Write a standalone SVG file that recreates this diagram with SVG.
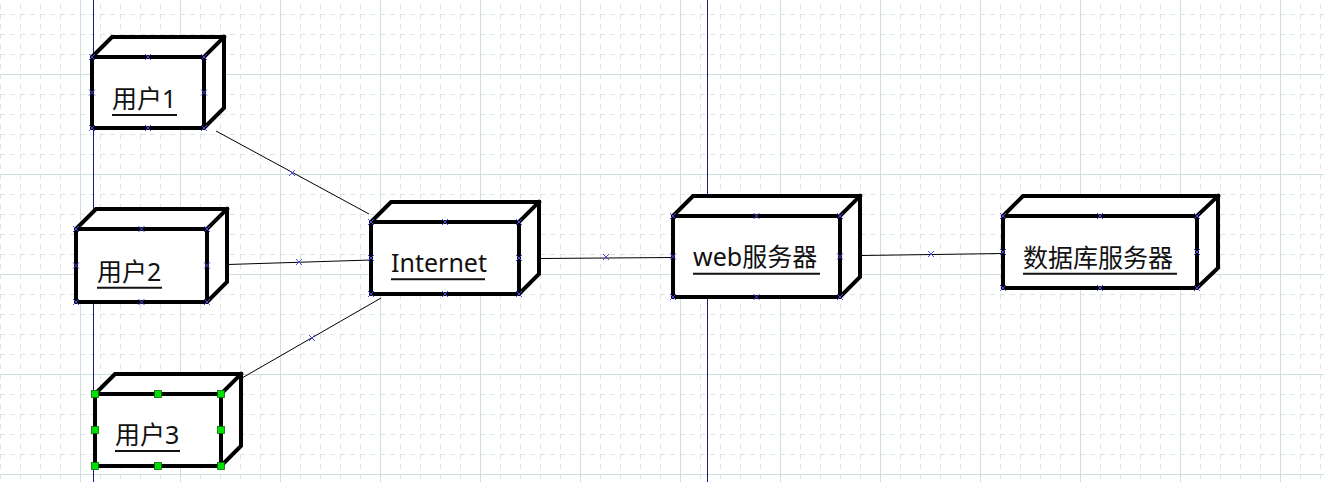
<svg xmlns="http://www.w3.org/2000/svg" width="1324" height="482" viewBox="0 0 1324 482">
<style>
.node-shape{fill:#ffffff;stroke:#000000;stroke-width:4;stroke-linejoin:miter}
.edge{fill:none;stroke:#000000;stroke-width:4;stroke-linecap:square}
.label{font-family:"Noto Sans","Noto Sans CJK SC",sans-serif;font-size:25px;fill:#111111}
.uline{stroke:#111111;stroke-width:2}
.conn{stroke:#000000;stroke-width:1;fill:none}
.pin{stroke:#4a4ae0;stroke-width:1;fill:none}
.handle{fill:#00e000;stroke:#0a6a0a;stroke-width:0.8}
.guide{stroke:#1a1a8a;stroke-width:1}
</style>
<defs>
<pattern id="minor" patternUnits="userSpaceOnUse" x="0" y="14" width="20" height="20">
<path d="M0.5 0V20M0 0.5H20" stroke="#d8e5e1" stroke-width="1" stroke-dasharray="5 5" fill="none"/>
</pattern>
<pattern id="major" patternUnits="userSpaceOnUse" x="80" y="74" width="100" height="100">
<path d="M0.5 0V100M0 0.5H100" stroke="#cfe0dc" stroke-width="1" fill="none"/>
</pattern>
<path id="x" class="pin" d="M-3-3L3 3M-3 3L3-3"/>
</defs>
<rect width="1324" height="482" fill="#ffffff"/>
<rect width="1324" height="482" fill="url(#minor)"/>
<rect width="1324" height="482" fill="url(#major)"/>
<g id="guides">
<line class="guide" x1="93.5" y1="0" x2="93.5" y2="482"/>
<line class="guide" x1="707.5" y1="0" x2="707.5" y2="482"/>
</g>
<g id="connectors">
<line class="conn" x1="216" y1="131" x2="369" y2="214"/>
<line class="conn" x1="228" y1="264.5" x2="371" y2="260"/>
<line class="conn" x1="242" y1="378" x2="381" y2="298"/>
<line class="conn" x1="540" y1="258.5" x2="673" y2="257.5"/>
<line class="conn" x1="862" y1="255.5" x2="1003" y2="253.5"/>
<use href="#x" x="292" y="173"/>
<use href="#x" x="299" y="262"/>
<use href="#x" x="312" y="338"/>
<use href="#x" x="606" y="257"/>
<use href="#x" x="931" y="254"/>
</g>
<g id="user1">
<path class="node-shape" d="M92 57L112 37H224V108L204 128H92Z"/>
<path class="edge" d="M92 57H204V128M204 57L224 37"/>
<text class="label" x="112" y="107.5">用户1</text>
<line class="uline" x1="112" y1="115" x2="177" y2="115"/>
<use href="#x" x="92" y="57"/><use href="#x" x="148" y="57"/><use href="#x" x="204" y="57"/>
<use href="#x" x="92" y="92.5"/><use href="#x" x="204" y="92.5"/>
<use href="#x" x="92" y="128"/><use href="#x" x="148" y="128"/><use href="#x" x="204" y="128"/>
</g>
<g id="user2">
<path class="node-shape" d="M76 229L96 209H227V282L207 302H76Z"/>
<path class="edge" d="M76 229H207V302M207 229L227 209"/>
<text class="label" x="97" y="280.5">用户2</text>
<line class="uline" x1="97" y1="287.7" x2="162" y2="287.7"/>
<use href="#x" x="76" y="229"/><use href="#x" x="141.5" y="229"/><use href="#x" x="207" y="229"/>
<use href="#x" x="76" y="265.5"/><use href="#x" x="207" y="265.5"/>
<use href="#x" x="76" y="302"/><use href="#x" x="141.5" y="302"/><use href="#x" x="207" y="302"/>
</g>
<g id="user3">
<path class="node-shape" d="M95 394L115 374H241V446L221 466H95Z"/>
<path class="edge" d="M95 394H221V466M221 394L241 374"/>
<text class="label" x="115" y="444">用户3</text>
<line class="uline" x1="115" y1="451" x2="180" y2="451"/>
<rect class="handle" x="91.5" y="390.5" width="7" height="7"/>
<rect class="handle" x="154.5" y="390.5" width="7" height="7"/>
<rect class="handle" x="217.5" y="390.5" width="7" height="7"/>
<rect class="handle" x="91.5" y="426.5" width="7" height="7"/>
<rect class="handle" x="217.5" y="426.5" width="7" height="7"/>
<rect class="handle" x="91.5" y="462.5" width="7" height="7"/>
<rect class="handle" x="154.5" y="462.5" width="7" height="7"/>
<rect class="handle" x="217.5" y="462.5" width="7" height="7"/>
</g>
<g id="internet">
<path class="node-shape" d="M371 222L391 202H539V274L519 294H371Z"/>
<path class="edge" d="M371 222H519V294M519 222L539 202"/>
<text class="label" x="391" y="271.7">Internet</text>
<line class="uline" x1="391" y1="279.3" x2="485" y2="279.3"/>
<use href="#x" x="371" y="222"/><use href="#x" x="445" y="222"/><use href="#x" x="519" y="222"/>
<use href="#x" x="371" y="258"/><use href="#x" x="519" y="258"/>
<use href="#x" x="371" y="294"/><use href="#x" x="445" y="294"/><use href="#x" x="519" y="294"/>
</g>
<g id="web-server">
<path class="node-shape" d="M673 216L693 196H860V277L840 297H673Z"/>
<path class="edge" d="M673 216H840V297M840 216L860 196"/>
<text class="label" x="693" y="266">web服务器</text>
<line class="uline" x1="693" y1="273.7" x2="820" y2="273.7"/>
<use href="#x" x="673" y="216"/><use href="#x" x="756.5" y="216"/><use href="#x" x="840" y="216"/>
<use href="#x" x="673" y="256.5"/><use href="#x" x="840" y="256.5"/>
<use href="#x" x="673" y="297"/><use href="#x" x="756.5" y="297"/><use href="#x" x="840" y="297"/>
</g>
<g id="db-server">
<path class="node-shape" d="M1003 216L1023 196H1218V268L1197 288H1003Z"/>
<path class="edge" d="M1003 216H1197V288M1197 216L1218 196"/>
<text class="label" x="1023" y="266.5">数据库服务器</text>
<line class="uline" x1="1023" y1="273.7" x2="1177" y2="273.7"/>
<use href="#x" x="1003" y="216"/><use href="#x" x="1100" y="216"/><use href="#x" x="1197" y="216"/>
<use href="#x" x="1003" y="252"/><use href="#x" x="1197" y="252"/>
<use href="#x" x="1003" y="288"/><use href="#x" x="1100" y="288"/><use href="#x" x="1197" y="288"/>
</g>
</svg>
